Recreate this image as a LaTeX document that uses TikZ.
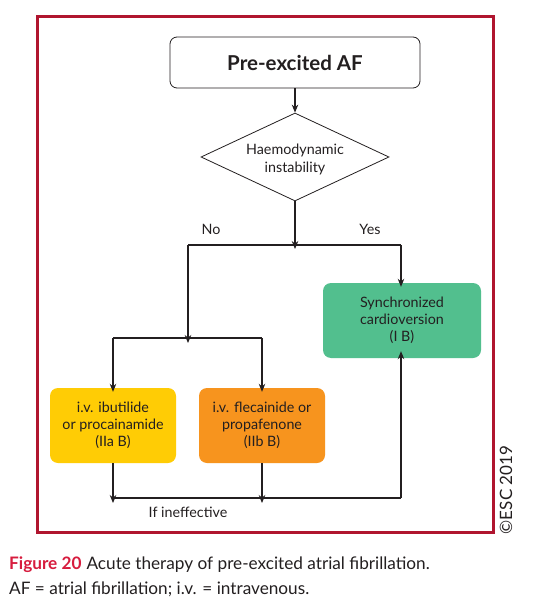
\documentclass[tikz,border=0pt]{standalone}
\usepackage{fontspec}
\setmainfont{Lato}
\usetikzlibrary{arrows.meta,shapes.geometric}
\definecolor{frame}{HTML}{B0152F}
\definecolor{txt}{HTML}{231F20}
\definecolor{grn}{HTML}{52BF8E}
\definecolor{ylw}{HTML}{FFCC05}
\definecolor{org}{HTML}{F7941E}
\definecolor{figred}{HTML}{D71C3E}
\tikzset{
  conn/.style={draw=txt, line width=1.1pt},
  arr/.style={conn, -{Stealth[length=8pt,width=6.5pt]}},
  colbox/.style={rounded corners=8pt, minimum width=126pt, minimum height=75pt, align=center, text=txt, font=\fontsize{14.3}{17}\selectfont, inner sep=0pt},
  lbl/.style={text=txt, font=\fontsize{14.3}{17}\selectfont, inner sep=0pt}
}
\begin{document}
\begin{tikzpicture}[x=1pt,y=-1pt]
\useasboundingbox (0,0) rectangle (532,601);
\fill[white] (0,0) rectangle (532,601);
\draw[frame, line width=3pt] (37,17) rectangle (493,532);
% nodes
\node[draw=txt, line width=0.8pt, rounded corners=7pt, minimum width=250pt, minimum height=51pt, font=\bfseries\fontsize{20.5}{24}\selectfont, text=txt, inner sep=0pt] (top) at (295,62.5) {Pre-excited AF};
\node[draw=txt, line width=0.8pt, diamond, aspect=2.1, minimum width=188pt, minimum height=88pt, inner sep=0pt, align=center, text=txt] (dia) at (295,157) {};
\node[lbl, align=center, font=\fontsize{14.3}{18}\selectfont] (diatext) at (295,159) {Haemodynamic\\instability};
\node[colbox, fill=grn, minimum width=158pt] (sync) at (402,320.5) {Synchronized\\cardioversion\\(I B)};
\node[colbox, fill=ylw] (ibu) at (113,425.5) {i.v. ibutilide\\or procainamide\\(IIa B)};
\node[colbox, fill=org] (fle) at (262,425.5) {i.v. flecainide or\\propafenone\\(IIb B)};
% junction coordinates
\coordinate (j1) at (295,245);
\coordinate (jL) at (188,245);
\coordinate (jR) at (401,245);
\coordinate (j2) at (188,338);
\coordinate (j2L) at (113,338);
\coordinate (j2R) at (262,338);
\coordinate (j3L) at (113,498);
\coordinate (j3M) at (262,498);
\coordinate (j3R) at (401,498);
% connectors
\draw[arr] (top) -- (dia);
\draw[arr] (dia.south) -- ([yshift=-4pt]j1);
\draw[conn] (jL) -- (jR);
\draw[arr] (jR) -- ([yshift=-4pt]sync.north -| jR);
\draw[arr] (jL) -- ([yshift=-5pt]j2);
\draw[conn] (j2L) -- (j2R);
\draw[arr] (j2L) -- ([yshift=-4pt]ibu.north);
\draw[arr] (j2R) -- ([yshift=-4pt]fle.north);
\draw[arr] (ibu.south) -- ([yshift=-5pt]j3L);
\draw[arr] (fle.south) -- ([yshift=-5pt]j3M);
\draw[conn] (j3L) -- (j3R);
\draw[arr] (j3R) -- ([yshift=7pt]sync.south -| j3R);
% labels
\node[lbl] (no) at (211,229) {No};
\node[lbl] (yes) at (370,229) {Yes};
\node[lbl] (ineff) at (188,512) {If ineffective};
\node[lbl, rotate=90, font=\fontsize{17}{20}\selectfont] (esc) at (506,490) {\textcopyright ESC 2019};
% caption
\node[anchor=west, inner sep=0pt, text=txt, font=\fontsize{17.2}{20}\selectfont] (cap1) at (9,565) {\textcolor{figred}{\textbf{Figure 20}}\hspace{5pt}Acute therapy of pre-excited atrial fibrillation.};
\node[anchor=west, inner sep=0pt, text=txt, font=\fontsize{17.2}{20}\selectfont] (cap2) at (9,589) {AF = atrial fibrillation; i.v. = intravenous.};
\end{tikzpicture}
\end{document}
